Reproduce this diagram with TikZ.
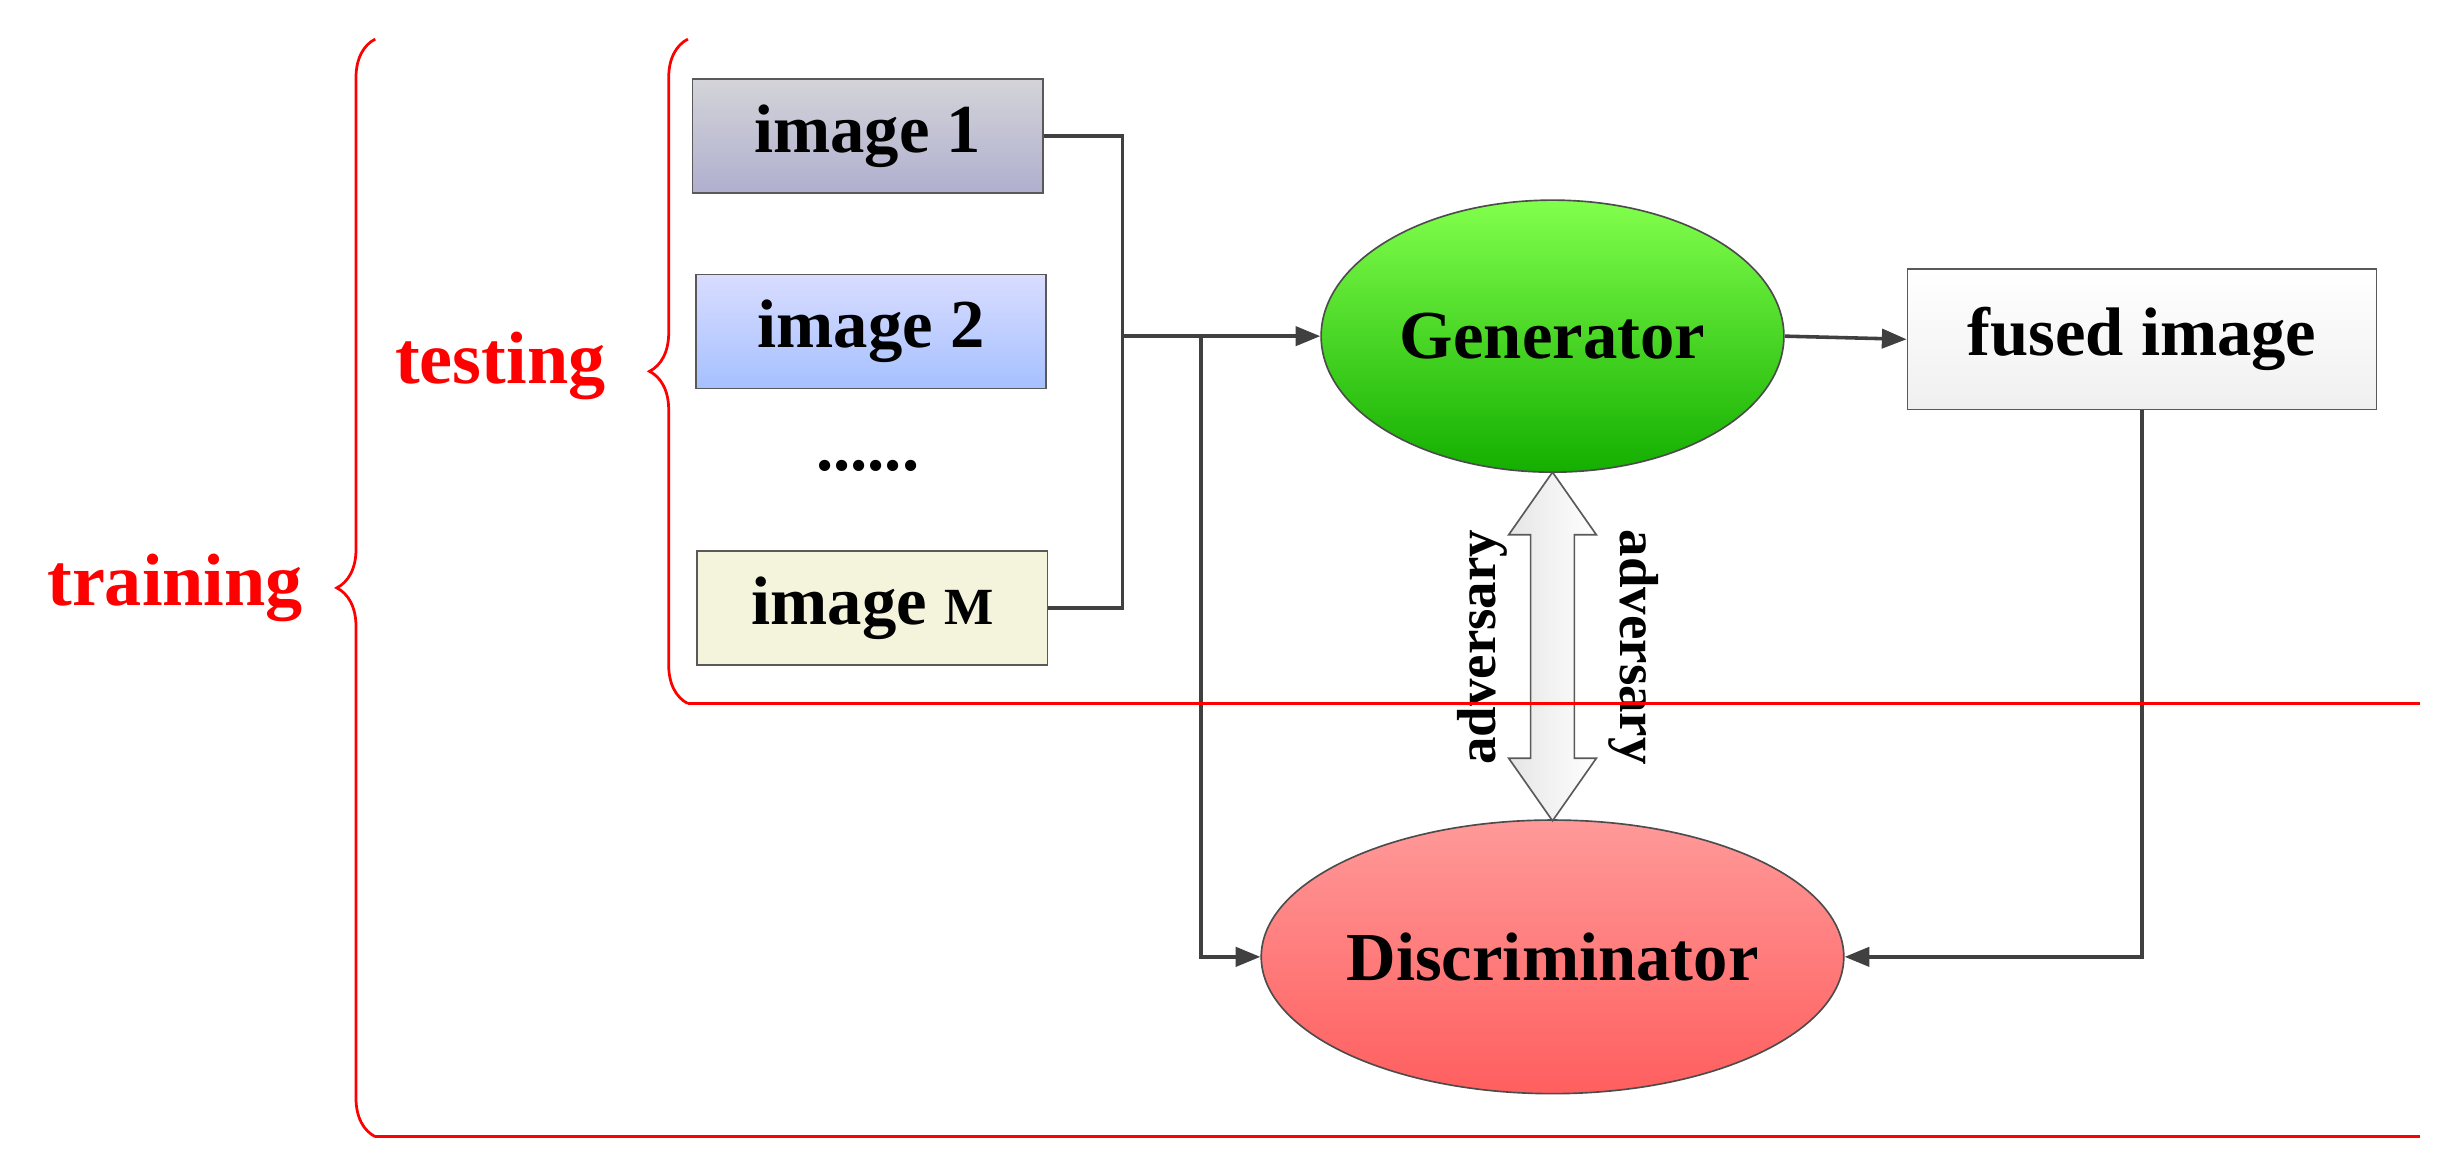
\documentclass[tikz,border=0pt]{standalone}
\usepackage{fontspec}
\setmainfont{Liberation Serif}
\usetikzlibrary{arrows.meta,decorations.pathreplacing,calc}
\begin{document}
\begin{tikzpicture}[x=0.02cm,y=-0.02cm,
  box/.style={draw=gray!70!black,line width=0.6pt,minimum width=224*0.02cm,minimum height=73*0.02cm,inner sep=0pt,font=\fontsize{25}{30}\selectfont\bfseries},
  ell/.style={ellipse,draw=gray!60!black,line width=0.6pt,inner sep=0pt,font=\fontsize{25}{30}\selectfont\bfseries},
  con/.style={draw=black!75,line width=1.3pt},
  arr/.style={con,-{Triangle[length=9pt,width=7pt]}},
  br/.style={draw=red,line width=1pt,decorate,decoration={brace,amplitude=14pt}},
  lab/.style={text=red,font=\fontsize{27}{32}\selectfont\bfseries},
  adv/.style={font=\fontsize{20}{24}\selectfont\bfseries}]
\useasboundingbox (0,0) rectangle (1560,745);
\usetikzlibrary{shapes.geometric}
\node[box,top color=white!80!blue!25!gray!40,bottom color=blue!25!gray!50] (i1) at (555,87) {image 1};
\node[box,top color=cyan!10!blue!15,bottom color=cyan!30!blue!35] (i2) at (557,212) {image 2};
\node[font=\fontsize{25}{30}\selectfont\bfseries] (dots) at (555,298) {......};
\node[box,fill=olive!10!white] (iM) at (558,389) {image {\fontsize{19}{20}\selectfont M}};
\node[ellipse,draw=gray!60!black,line width=0.6pt,minimum width=296*0.02cm,minimum height=174*0.02cm,inner sep=0pt,font=\fontsize{25}{30}\selectfont\bfseries,top color=green!60!lime!70!white,bottom color=green!65!black!90!lime] (gen) at (993,215) {Generator};
\node[ellipse,draw=gray!60!black,line width=0.6pt,minimum width=350*0.02cm,minimum height=175*0.02cm,inner sep=0pt,font=\fontsize{25}{30}\selectfont\bfseries,top color=red!40!white,bottom color=red!60!pink!90] (dis) at (993,612) {Discriminator};
\node[box,minimum width=300*0.02cm,minimum height=90*0.02cm,top color=white,bottom color=gray!12] (fu) at (1370,217) {fused image};
\coordinate (j1) at (718,215);
\coordinate (j2) at (768,215);
\draw[con] (i1.east) -| (j1) |- (iM.east);
\draw[arr] (j1) -- (gen.west);
\draw[arr] (j2) |- ($(dis.west)+(0,0)$);
\draw[arr] (gen.east) -- (fu.west);
\draw[arr] (fu.south) |- (dis.east);
% double arrow
\draw[draw=gray!70!black,line width=0.6pt,left color=gray!20,right color=white]
 (993,302) -- (1021,342) -- (1007,342) -- (1007,485) -- (1021,485) -- (993,525)
 -- (965,485) -- (979,485) -- (979,342) -- (965,342) -- cycle;
\node[adv,rotate=90] (a1) at (948,414) {adversary};
\node[adv,rotate=-90] (a2) at (1045,414) {adversary};
% braces
\draw[br] (440,450) -- (440,25);
\draw[br] (240,727) -- (240,25);
\draw[red,line width=1pt] (440,450) -- (1548,450);
\draw[red,line width=1pt] (240,727) -- (1548,727);
\node[lab] (t) at (320,234) {testing};
\node[lab] (tr) at (112,376) {training};
\end{tikzpicture}
\end{document}
